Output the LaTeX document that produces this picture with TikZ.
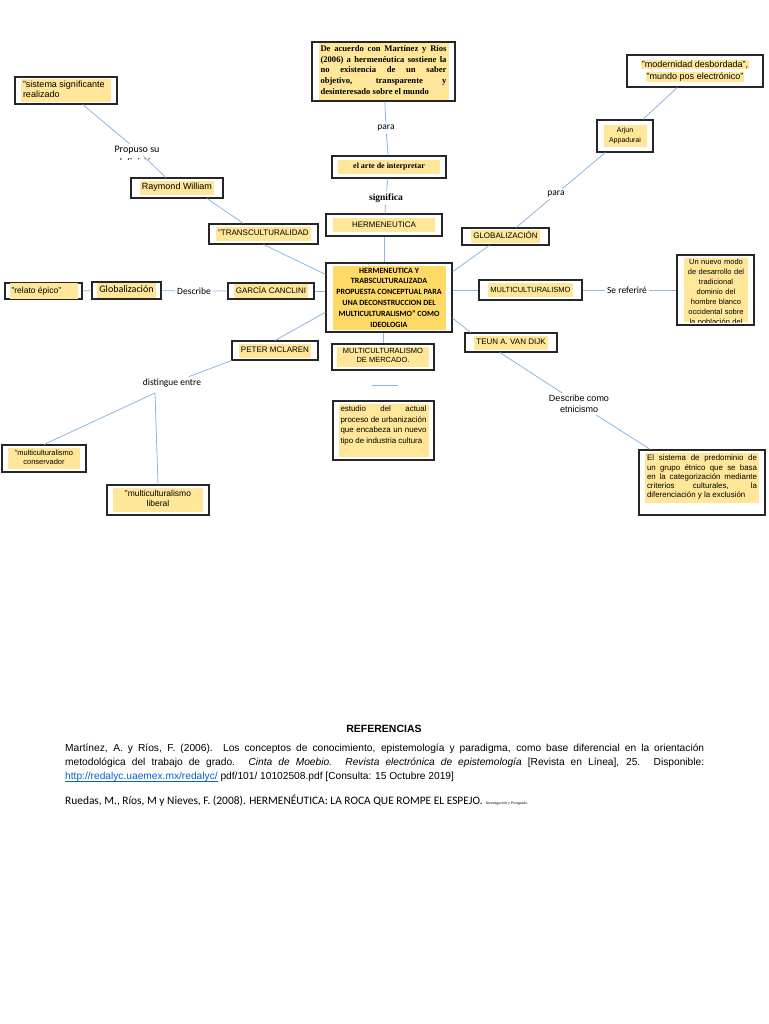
\documentclass[tikz,border=0pt]{standalone}
\usepackage{fontspec}
\setmainfont{Liberation Sans}
\newfontfamily\carl{Carlito}
\newfontfamily\tms{Liberation Serif}
\usetikzlibrary{positioning}

\definecolor{hl}{HTML}{FFE699}
\definecolor{hlc}{HTML}{FFD966}
\definecolor{lineblue}{HTML}{8DB6E2}
\definecolor{urlblue}{HTML}{0563C1}

% highlighted text, one line / one block
\newcommand{\hl}[1]{{\fboxsep=2pt\colorbox{hl}{#1\strut}}}
\newcommand{\hlt}[1]{{\fboxsep=1pt\colorbox{hl}{#1}}}
\newcommand{\hlb}[3][\centering]{{\fboxsep=2pt\colorbox{hl}{\parbox{#2}{#1#3\strut}}}}
% link underline close to the baseline
\newcommand{\ulink}[1]{\setbox0=\hbox{#1}\rlap{\rule[-1.3pt]{\wd0}{0.5pt}}\box0}

\tikzset{
  cbox/.style 2 args={draw=black!85, line width=1.1pt, fill=white, inner sep=0pt,
    minimum width=#1, minimum height=#2},
  lbl/.style={font=\carl\fontsize{9.5}{11.5}\selectfont, inner sep=2pt},
  conn/.style={draw=lineblue, line width=0.8pt},
}

\begin{document}
\begin{tikzpicture}[x=1pt, y=-1pt]
  \useasboundingbox (0,0) rectangle (768,1024);
  \fill[white] (0,0) rectangle (768,1024);

  % CENTRE COLUMN
  \node[cbox={143pt}{59pt}] (acuerdo) at (383.5,71.5)
    {\hlb[]{126pt}{\tms\bfseries\fontsize{8.6}{10.8}\selectfont De acuerdo con Martínez y Ríos\linebreak (2006) a hermenéutica sostiene la\linebreak no existencia de un saber\linebreak objetivo, transparente y\linebreak desinteresado sobre el mundo}};
  \node[lbl] (para1) at (386,128) {para};
  \node[cbox={114pt}{22pt}] (arte) at (389,167)
    {\hlb{98pt}{\tms\bfseries\fontsize{8}{10}\selectfont el arte de interpretar}};
  \node[lbl, font=\tms\bfseries\fontsize{9.5}{11}\selectfont] (signif) at (386,198) {significa};
  \node[cbox={116pt}{22pt}] (herm) at (384,225)
    {\hlb{98pt}{\fontsize{8}{10}\selectfont HERMENEUTICA}};

  \node[cbox={126pt}{69pt}] (central) at (389,297.5)
    {{\fboxsep=1.5pt\colorbox{hlc}{\parbox[c][61pt]{110pt}{\centering\carl\bfseries\fontsize{8}{10.8}\selectfont HERMENEUTICA Y\\TRABSCULTURALIZADA\\PROPUESTA CONCEPTUAL PARA\\UNA DECONSTRUCCION DEL\\MULTICULTURALISMO” COMO\\IDEOLOGIA}}}};

  \node[cbox={102pt}{26pt}] (mercado) at (383,357)
    {\hlb{88pt}{\fontsize{7.5}{9}\selectfont MULTICULTURALISMO\\DE MERCADO.}};
  \coordinate (segl) at (372,385);
  \coordinate (segr) at (398,385);
  \node[cbox={101pt}{59pt}] (estudio) at (383.5,430.5)
    {{\fboxsep=2pt\colorbox{hl}{\parbox[c][49pt][t]{86pt}{\fontsize{7.9}{10.5}\selectfont estudio del actual\linebreak proceso de urbanización\linebreak que encabeza un nuevo\linebreak tipo de industria cultura}}}};

  % LEFT SIDE
  \node[cbox={102pt}{27pt}] (sist) at (66,90.5)
    {\hlb[\raggedright]{86pt}{\fontsize{9}{10}\selectfont "sistema significante\\realizado}};
  \node[lbl, font=\carl\fontsize{10}{12}\selectfont] (propuso) at (137,150) {Propuso su};
  \begin{scope}
    \clip (105,156.5) rectangle (170,160);
    \node[lbl, font=\carl\fontsize{10}{12}\selectfont, anchor=north] (propuso2) at (137,156) {definición};
  \end{scope}
  \node[cbox={92pt}{20pt}] (raymond) at (177,188)
    {\hl{\fontsize{9}{10}\selectfont Raymond William}};
  \node[cbox={109pt}{20pt}] (trans) at (263.5,234)
    {\hl{\fontsize{8}{10}\selectfont "TRANSCULTURALIDAD}};

  \node[cbox={77pt}{14pt}] (relato) at (43.5,291)
    {\hl{\makebox[64pt][l]{\fontsize{8.5}{9}\selectfont "relato épico"}}};
  \node[cbox={69pt}{17pt}] (globmin) at (126.5,290.5)
    {\hl{\carl\fontsize{10}{11}\selectfont Globalización}};
  \node[lbl] (describe) at (194,291) {Describe};
  \node[cbox={86pt}{16pt}] (garcia) at (271,291)
    {\hl{\fontsize{8}{9}\selectfont GARCÍA CANCLINI}};

  \node[cbox={86pt}{19pt}] (peter) at (275,350.5)
    {\hl{\fontsize{8}{10}\selectfont PETER MCLAREN}};
  \node[lbl] (distingue) at (172,383) {distingue entre};
  \coordinate (split) at (155,393);
  \node[cbox={84pt}{27pt}] (conserv) at (44,458.5)
    {\hlb{68pt}{\fontsize{7.5}{9.5}\selectfont "multiculturalismo\\conservador}};
  \node[cbox={102pt}{30pt}] (liberal) at (158,500)
    {\hlb{86pt}{\fontsize{8.5}{10}\selectfont "multiculturalismo\\liberal}};

  % RIGHT SIDE
  \node[cbox={136pt}{32pt}, align=center, font=\fontsize{9}{12}\selectfont] (modern) at (695,71)
    {\hlt{"modernidad desbordada",}\\\hlt{"mundo pos electrónico"}};
  \node[cbox={56pt}{32pt}] (arjun) at (625,136)
    {\hlb{39pt}{\fontsize{7}{10}\selectfont Arjun\\Appadurai}};
  \node[lbl] (para2) at (556,194) {para};
  \node[cbox={87pt}{17pt}] (glob) at (505.5,236.5)
    {\hl{\fontsize{8}{9.5}\selectfont GLOBALIZACIÓN}};

  \node[cbox={103pt}{20pt}] (multi) at (530.5,290)
    {\hl{\fontsize{7.5}{10}\selectfont MULTICULTURALISMO}};
  \node[lbl] (refer) at (627,290) {Se referiré};
  \node[cbox={77pt}{70pt}] (nuevo) at (715.5,290) {};
  \fill[hl] (684,258) rectangle (748,322);
  \begin{scope}
    \clip (684,258) rectangle (748,322);
    \node[anchor=north, text width=64pt, align=center, inner sep=0pt,
      font=\fontsize{7.5}{10}\selectfont] (nuevotxt) at (716,258.5)
      {Un nuevo modo\\de desarrollo del\\tradicional\\dominio del\\hombre blanco\\occidental sobre\\la población del};
  \end{scope}

  \node[cbox={92pt}{19pt}] (teun) at (511,342.5)
    {\hl{\fontsize{8}{10}\selectfont TEUN A. VAN DIJK}};
  \node[lbl, font=\fontsize{9}{11}\selectfont, align=center] (etnic) at (579,404) {Describe como\\etnicismo};
  \node[cbox={126pt}{65pt}] (sistema) at (702,482.5)
    {\parbox[c][59pt][t]{120pt}{\centering\hlb[]{110pt}{\fontsize{7.9}{9.3}\selectfont El sistema de predominio de\linebreak un grupo étnico que se basa\linebreak en la categorización mediante\linebreak criterios culturales, la\linebreak diferenciación y la exclusión}}};

  % CONNECTORS
  \draw[conn] (acuerdo) -- (para1) -- (arte);
  \draw[conn] (arte) -- (signif) -- (herm);
  \draw[conn] (herm.south) -- (herm.south |- central.north);
  \draw[conn] (trans.south) -- (central.160);
  \draw[conn] (garcia) -- (garcia -| central.west);
  \draw[conn] (peter.north) -- (central.193);
  \draw[conn] (mercado.north) -- (mercado.north |- central.south);
  \draw[conn] (segl) -- (segr);
  \draw[conn] (glob.209) -- (central.22);
  \draw[conn] (multi) -- (multi -| central.east);
  \draw[conn] (teun.166) -- (central.342);

  \draw[conn] (sist) -- (propuso) -- (raymond);
  \draw[conn] ([xshift=30pt]raymond.south) -- ([xshift=-20pt]trans.north);
  \draw[conn] (relato) -- (globmin) -- (describe) -- (garcia);
  \draw[conn] (peter.south west) -- (distingue);
  \draw[conn] (split) -- (conserv.north);
  \draw[conn] (split) -- (liberal.north);

  \draw[conn] (glob) -- (para2) -- (arjun) -- (modern);
  \draw[conn] (multi) -- (refer) -- (nuevo);
  \draw[conn] ([xshift=-11pt]teun.south) -- (etnic) -- (sistema);

  % REFERENCES
  \node[font=\bfseries\fontsize{10.5}{12}\selectfont] (refhead) at (384,729) {REFERENCIAS};
  \node[anchor=north west, text width=639pt, align=justify, inner sep=0pt, font=\fontsize{10.2}{14}\selectfont] (ref1) at (65,744)
    {Martínez, A. y Ríos, F. (2006). Los conceptos de conocimiento, epistemología y paradigma, como base diferencial en la orientación\linebreak metodológica del trabajo de grado. \textit{Cinta de Moebio. Revista electrónica de epistemología} [Revista en Línea], 25. Disponible:\linebreak \textcolor{urlblue}{\ulink{http://redalyc.uaemex.mx/redalyc/}} pdf/101/ 10102508.pdf [Consulta: 15 Octubre 2019]};
  \node[anchor=west, inner sep=0pt] (ref2) at (65,801)
    {{\carl\fontsize{11.4}{13}\selectfont Ruedas, M., Ríos, M y Nieves, F. (2008). HERMENÉUTICA: LA ROCA QUE ROMPE EL ESPEJO.} {\tms\fontsize{4}{5}\selectfont Investigación y Postgrado.}};
\end{tikzpicture}
\end{document}
